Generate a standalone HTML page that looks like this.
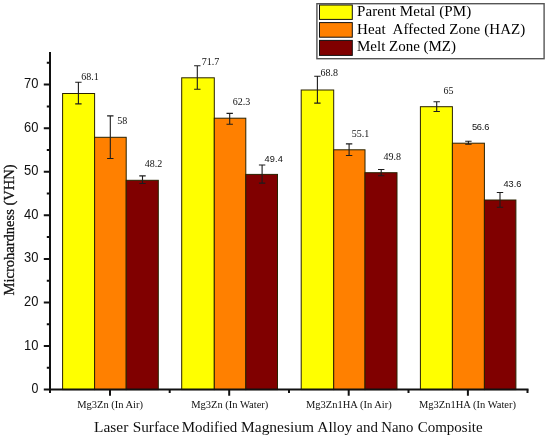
<!DOCTYPE html>
<html><head><meta charset="utf-8"><title>Microhardness chart</title>
<style>
html,body{margin:0;padding:0;background:#fff;}
svg{display:block;}
text{font-family:"Liberation Serif",serif;fill:#111;}
.ar{font-family:"Liberation Sans",sans-serif;}
.lg text{fill:#000;}
</style></head><body>
<svg width="550" height="439" viewBox="0 0 550 439">
<rect width="550" height="439" fill="#fff"/>
<g stroke="#2a2200" stroke-width="1">
<rect x="62.6" y="93.5" width="32.0" height="296.1" fill="#ffff00"/>
<rect x="94.6" y="137.3" width="31.6" height="252.3" fill="#ff8000"/>
<rect x="126.2" y="180.3" width="32.1" height="209.3" fill="#800000"/>
<rect x="181.7" y="77.8" width="32.6" height="311.8" fill="#ffff00"/>
<rect x="214.3" y="118.2" width="31.5" height="271.4" fill="#ff8000"/>
<rect x="245.8" y="174.4" width="31.7" height="215.2" fill="#800000"/>
<rect x="301.2" y="90.0" width="32.5" height="299.6" fill="#ffff00"/>
<rect x="333.7" y="149.8" width="31.3" height="239.8" fill="#ff8000"/>
<rect x="365.0" y="172.7" width="32.0" height="216.9" fill="#800000"/>
<rect x="420.4" y="106.7" width="32.0" height="282.9" fill="#ffff00"/>
<rect x="452.4" y="143.2" width="32.0" height="246.4" fill="#ff8000"/>
<rect x="484.4" y="200.0" width="31.5" height="189.6" fill="#800000"/>
</g>
<g stroke="#1c1c1c" stroke-width="1.1" fill="none">
<path d="M78.4 82.2V103.9M75.2 82.2h6.4M75.2 103.9h6.4"/>
<path d="M110.3 115.9V158.5M107.1 115.9h6.4M107.1 158.5h6.4"/>
<path d="M142.5 175.9V183.5M139.3 175.9h6.4M139.3 183.5h6.4"/>
<path d="M197.3 65.7V89.3M194.1 65.7h6.4M194.1 89.3h6.4"/>
<path d="M229.7 113.4V124.3M226.5 113.4h6.4M226.5 124.3h6.4"/>
<path d="M262.1 165.0V183.1M258.9 165.0h6.4M258.9 183.1h6.4"/>
<path d="M317.4 76.2V103.1M314.2 76.2h6.4M314.2 103.1h6.4"/>
<path d="M349.1 143.9V155.5M345.9 143.9h6.4M345.9 155.5h6.4"/>
<path d="M381.2 169.5V175.8M378.0 169.5h6.4M378.0 175.8h6.4"/>
<path d="M436.7 101.8V111.5M433.5 101.8h6.4M433.5 111.5h6.4"/>
<path d="M468.4 141.3V144.3M465.2 141.3h6.4M465.2 144.3h6.4"/>
<path d="M500.0 192.5V207.3M496.8 192.5h6.4M496.8 207.3h6.4"/>
</g>
<g stroke="#111" stroke-width="2" fill="none">
<path d="M50 52V390.6"/>
<path d="M43.8 389.6H528.5"/>
<path d="M43.8 346.0h6M43.8 302.5h6M43.8 258.9h6M43.8 215.3h6M43.8 171.8h6M43.8 128.2h6M43.8 84.6h6"/>
<path d="M46.8 367.8h3M46.8 324.2h3M46.8 280.7h3M46.8 237.1h3M46.8 193.5h3M46.8 150.0h3M46.8 106.4h3M46.8 62.8h3"/>
<path d="M110 389.6v6.2M229.2 389.6v6.2M348.7 389.6v6.2M467.9 389.6v6.2"/>
<path d="M50 389.6v3.4M169.7 389.6v3.4M289 389.6v3.4M408.5 389.6v3.4M527.5 389.6v3.4"/>
</g>
<g font-size="14.2">
<text class="ar" x="31.5" y="393.1" textLength="6.9" lengthAdjust="spacingAndGlyphs">0</text>
<text class="ar" x="24.0" y="349.5" textLength="14.4" lengthAdjust="spacingAndGlyphs">10</text>
<text class="ar" x="24.0" y="306.0" textLength="14.4" lengthAdjust="spacingAndGlyphs">20</text>
<text class="ar" x="24.0" y="262.4" textLength="14.4" lengthAdjust="spacingAndGlyphs">30</text>
<text class="ar" x="24.0" y="218.8" textLength="14.4" lengthAdjust="spacingAndGlyphs">40</text>
<text class="ar" x="24.0" y="175.3" textLength="14.4" lengthAdjust="spacingAndGlyphs">50</text>
<text class="ar" x="24.0" y="131.7" textLength="14.4" lengthAdjust="spacingAndGlyphs">60</text>
<text class="ar" x="24.0" y="88.1" textLength="14.4" lengthAdjust="spacingAndGlyphs">70</text>
</g>
<g font-size="10">
<text x="81.3" y="80.3">68.1</text>
<text x="117.3" y="124.1">58</text>
<text x="144.7" y="167.3">48.2</text>
<text x="201.7" y="64.9">71.7</text>
<text x="232.7" y="104.8">62.3</text>
<text class="ar" x="264.6" y="161.9" font-size="9.2" textLength="18.2">49.4</text>
<text x="320.5" y="76.3">68.8</text>
<text x="351.7" y="137.4">55.1</text>
<text x="383.4" y="160">49.8</text>
<text x="443.4" y="93.7">65</text>
<text class="ar" x="471.9" y="129.7" font-size="9.3" textLength="17.4">56.6</text>
<text class="ar" x="503.4" y="186.5" font-size="9.2" textLength="18">43.6</text>
</g>
<g font-size="10.5" text-anchor="middle">
<text x="110.1" y="407.7">Mg3Zn (In Air)</text>
<text x="229.8" y="407.7">Mg3Zn (In Water)</text>
<text x="348.8" y="407.7">Mg3Zn1HA (In Air)</text>
<text x="467.5" y="407.7">Mg3Zn1HA (In Water)</text>
</g>
<g font-size="15.4">
<text x="94.1" y="432" textLength="34.2" lengthAdjust="spacingAndGlyphs">Laser</text>
<text x="132.7" y="432" textLength="46.6" lengthAdjust="spacingAndGlyphs">Surface</text>
<text x="181.7" y="432" textLength="55.6" lengthAdjust="spacingAndGlyphs">Modified</text>
<text x="241.1" y="432" textLength="72.8" lengthAdjust="spacingAndGlyphs">Magnesium</text>
<text x="317.3" y="432" textLength="35.0" lengthAdjust="spacingAndGlyphs">Alloy</text>
<text x="356.3" y="432" textLength="21.6" lengthAdjust="spacingAndGlyphs">and</text>
<text x="381.3" y="432" textLength="32.0" lengthAdjust="spacingAndGlyphs">Nano</text>
<text x="417.7" y="432" textLength="65.0" lengthAdjust="spacingAndGlyphs">Composite</text>
</g>
<text transform="translate(13.8 295.4) rotate(-90)" font-size="14.5" textLength="131" stroke="#111" stroke-width="0.3">Microhardness (VHN)</text>
<rect x="316.9" y="3.7" width="227.2" height="55" fill="#fff" stroke="#555" stroke-width="1.4"/>
<g stroke="#111" stroke-width="1">
<rect x="319.5" y="5" width="32.8" height="14.4" fill="#ffff00"/>
<rect x="319.5" y="22.6" width="32.8" height="14.6" fill="#ff8000"/>
<rect x="319.5" y="40.4" width="32.8" height="15" fill="#800000"/>
</g>
<g font-size="15" class="lg">
<text x="357" y="16.2" textLength="114.2">Parent Metal (PM)</text>
<text x="357" y="33.6" xml:space="preserve" textLength="168.3">Heat  Affected Zone (HAZ)</text>
<text x="357" y="51.3" textLength="99">Melt Zone (MZ)</text>
</g>
</svg>
</body></html>
